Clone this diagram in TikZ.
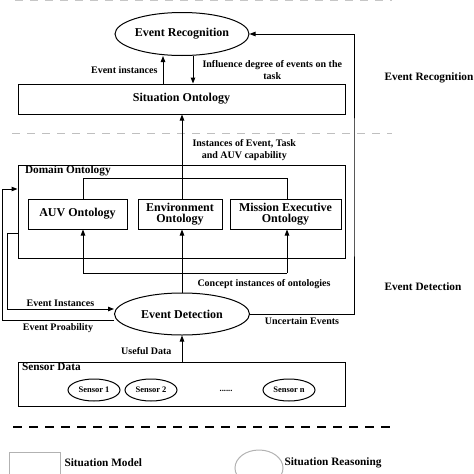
\documentclass[tikz,border=0pt]{standalone}
\usepackage{fontspec}
\setmainfont{Liberation Serif}
\usetikzlibrary{positioning, arrows.meta, shapes.geometric}

\begin{document}
\begin{tikzpicture}[
    x=1pt, y=-1pt,
    >={Triangle[length=6pt,width=4.5pt]},
    line width=1pt,
    model/.style={
        draw, rectangle, minimum height=30pt, inner sep=1pt,
        align=center, font=\bfseries\fontsize{12}{13}\selectfont
    },
    reason/.style={
        draw, ellipse, minimum width=134pt, minimum height=43pt,
        inner sep=0pt, font=\bfseries\fontsize{12}{13}\selectfont
    },
    sensor/.style={
        draw, ellipse, minimum width=52pt, minimum height=22pt,
        inner sep=0pt, font=\bfseries\fontsize{8.5}{10}\selectfont
    },
    lbl/.style={font=\bfseries\fontsize{10}{12}\selectfont, align=center, inner sep=1pt},
    tag/.style={font=\bfseries\fontsize{11.3}{13}\selectfont, inner sep=1pt}
]

\useasboundingbox (0,0) rectangle (474,474);

% -------------------------
% Layer separators
% -------------------------
\draw[gray!45, dash pattern=on 8pt off 7pt] (15,0.5) -- (392,0.5);
\draw[gray!50, dash pattern=on 8pt off 7pt] (12,133) -- (392,133);
\draw[line width=1.6pt, dash pattern=on 9pt off 7pt] (13,427) -- (393,427);

% -------------------------
% Event Recognition layer
% -------------------------
\node[reason] (ER) at (182,34) {Event Recognition};
\node[model, minimum width=327pt] (SO) at (181.5,99) {Situation Ontology};

% -------------------------
% Domain Ontology
% -------------------------
\node[draw, rectangle, minimum width=327pt, minimum height=93pt] (Dom) at (181.5,211.5) {};
\node[tag, anchor=north west] (DomLbl) at ([xshift=6pt]Dom.north west) {Domain Ontology};

\node[model, minimum width=99pt] (AUV) at (77.5,214) {AUV Ontology};
\node[model, minimum width=84pt] (Env) at (180,214) {Environment\\[-2pt]Ontology};
\node[model, minimum width=111pt] (Mis) at (285.5,214) {Mission Executive\\[-2pt]Ontology};

% -------------------------
% Event Detection layer
% -------------------------
\node[reason, minimum width=135pt, minimum height=42pt] (ED) at (182,314) {Event Detection};

\node[draw, rectangle, minimum width=327pt, minimum height=44pt] (Sen) at (181.5,384) {};
\node[tag, anchor=north west] (SenLbl) at ([xshift=3pt]Sen.north west) {Sensor Data};
\node[sensor] (S1) at (94,390) {Sensor 1};
\node[sensor] (S2) at (151,390) {Sensor 2};
\node[font=\bfseries\fontsize{8.5}{10}\selectfont] (Dots) at (226,391) {......};
\node[sensor] (Sn) at (289,390) {Sensor n};

% -------------------------
% Side labels
% -------------------------
\node[tag, anchor=west] (RecTag) at (383,78) {Event Recognition};
\node[tag, anchor=west] (DetTag) at (383,287) {Event Detection};

% -------------------------
% Legend
% -------------------------
\draw[gray!60] (9,452) rectangle (60,480);
\node[tag, anchor=west] (LegM) at (63,463) {Situation Model};
\draw[gray!60] (259,468) ellipse (24pt and 18pt);
\node[tag, anchor=west] (LegR) at (283,463) {Situation Reasoning};

% -------------------------
% Connections
% -------------------------
\coordinate (jl) at (83,178);
\coordinate (jr) at (287,178);
\coordinate (bl) at (83,273);
\coordinate (br) at (287,273);
\coordinate (ue) at (354,200);
\coordinate (ep) at (2,189);
\coordinate (ei) at (7,233);

% Situation Ontology <-> Event Recognition
\draw[<-] ([xshift=-19pt]ER.south) -- ([xshift=-19pt]ER.south |- SO.north)
    node[lbl, midway, left=4pt] {Event instances};
\draw[->] ([xshift=11pt]ER.south) -- ([xshift=11pt]ER.south |- SO.north)
    node[lbl, midway, right=8pt] {Influence degree of events on the\\task};

% Domain Ontology -> Situation Ontology
\draw (AUV.north -| jl) -- (jl) -- (jr) -- (Mis.north -| jr);
\draw[->] (ED.north |- Env.north) -- (ED.north |- SO.south)
    node[lbl, pos=0.58, right=9pt] {Instances of Event, Task\\and AUV capability};

% Event Detection -> ontologies
\draw[->] (ED.north) -- (ED.north |- Env.south)
    node[lbl, pos=0.14, right=14pt] {Concept instances of ontologies};
\draw[->] (bl) -- (AUV.south -| bl);
\draw (bl) -- (br);
\draw[->] (br) -- (Mis.south -| br);

% Event Detection -> Event Recognition
\draw[->] (ED.east) -| (ue) node[lbl, pos=0.25, below=2pt] {Uncertain Events} |- (ER.east);

% Event Detection <-> Domain Ontology
\draw[->] ([yshift=-6pt]ED.west) -| (ep) node[lbl, pos=0.25, below=2pt] {Event Proability} -- (ep -| Dom.west);
\draw[->] (ei -| Dom.west) -- (ei) |- ([yshift=5pt]ED.west)
    node[lbl, pos=0.75, above=1pt] {Event Instances};

% Sensor Data -> Event Detection
\draw[->] (Sen.north -| ED.south) -- (ED.south)
    node[lbl, pos=0.4, left=9pt] {Useful Data};

\end{tikzpicture}
\end{document}
